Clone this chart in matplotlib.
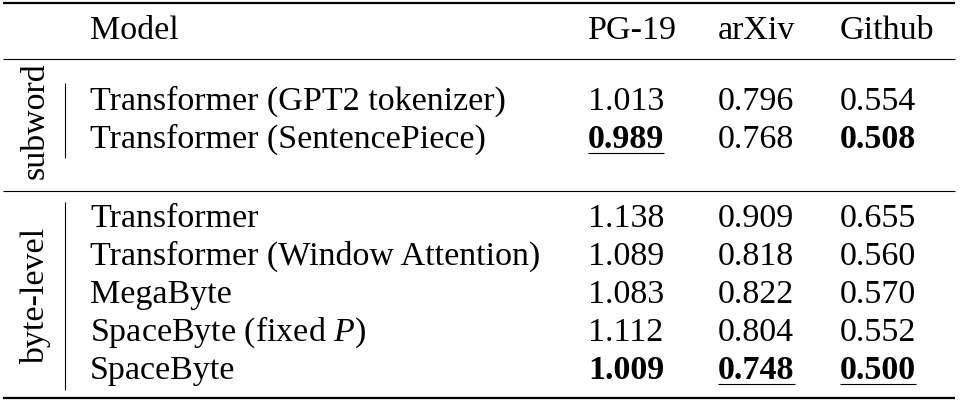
import matplotlib
matplotlib.use("Agg")
import matplotlib.pyplot as plt

plt.rcParams['font.family'] = ['Liberation Serif', 'DejaVu Serif']
plt.rcParams['mathtext.fontset'] = 'custom'
plt.rcParams['mathtext.rm'] = 'Liberation Serif'
plt.rcParams['mathtext.it'] = 'Liberation Serif:italic'

# table data
headers = ["Model", "PG-19", "arXiv", "Github"]
groups = ["subword", "byte-level"]
group_sizes = [2, 5]
models = ["Transformer (GPT2 tokenizer)", "Transformer (SentencePiece)",
          "Transformer", "Transformer (Window Attention)", "MegaByte",
          "SpaceByte (fixed $P$)", "SpaceByte"]
pg19 = ["1.013", "0.989", "1.138", "1.089", "1.083", "1.112", "1.009"]
arxiv = ["0.796", "0.768", "0.909", "0.818", "0.822", "0.804", "0.748"]
github = ["0.554", "0.508", "0.655", "0.560", "0.570", "0.552", "0.500"]
# bold = best in group, underline = best overall
bold = [[1, 6], [6], [1, 6]]
underline = [[1], [6], [6]]

W, H = 960, 401
fig = plt.figure(figsize=(W / 100, H / 100), dpi=100)
ax = fig.add_axes([0, 0, 1, 1])
ax.set_xlim(0, W)
ax.set_ylim(H, 0)
ax.axis('off')

fs = 24.5
col_x = [90, 588, 718, 840]
header_y = 39
row_y = [110, 148, 227, 265, 303, 341, 379]

# rules
ax.hlines(3, 3, 955, color='black', lw=1.6)
ax.hlines(59, 3, 955, color='black', lw=0.8)
ax.hlines(191, 3, 955, color='black', lw=0.8)
ax.hlines(398, 3, 955, color='black', lw=1.6)

for x, h in zip(col_x, headers):
    ax.text(x, header_y, h, fontsize=fs, ha='left', va='baseline')

for i, m in enumerate(models):
    ax.text(col_x[0], row_y[i], m, fontsize=fs, ha='left', va='baseline')

texts = []
for c, col in enumerate([pg19, arxiv, github]):
    for i, v in enumerate(col):
        w = 'bold' if i in bold[c] else 'normal'
        t = ax.text(col_x[c + 1], row_y[i], v, fontsize=fs, ha='left',
                    va='baseline', fontweight=w)
        if i in underline[c]:
            texts.append(t)

# group labels with vertical bars
start = 0
bar_ranges = [(83, 158), (202, 390)]
for g, n, (y0, y1) in zip(groups, group_sizes, bar_ranges):
    ax.vlines(65, y0, y1, color='black', lw=0.8)
    ax.text(44, (y0 + y1) / 2, g, fontsize=fs, rotation=90,
            rotation_mode='anchor', ha='center', va='baseline')
    start += n

# underline the best values
fig.canvas.draw()
r = fig.canvas.get_renderer()
inv = ax.transData.inverted()
for t in texts:
    bb = t.get_window_extent(renderer=r)
    x0, _ = inv.transform((bb.x0, bb.y0))
    x1, _ = inv.transform((bb.x1, bb.y0))
    y = t.get_position()[1] + 5
    ax.hlines(y, x0, x1, color='black', lw=0.8)

fig.savefig('out.png', dpi=100)
